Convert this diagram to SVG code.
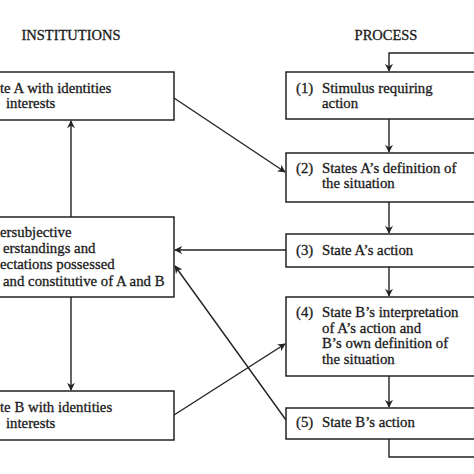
<svg xmlns="http://www.w3.org/2000/svg" width="474" height="474" viewBox="0 0 474 474">
<style>
text{font-family:"Liberation Serif","Times New Roman",serif;font-size:14.8px;fill:#1a1a1a;stroke:#1a1a1a;stroke-width:0.3}
.hd{font-size:14.5px}
.box{fill:#fff;stroke:#222;stroke-width:1.5}
.ln{fill:none;stroke:#222;stroke-width:1.4}
</style>
<defs>
<marker id="ar" viewBox="0 0 10 10" refX="9" refY="5" markerWidth="8" markerHeight="8" markerUnits="userSpaceOnUse" orient="auto">
<path d="M0,0 L10,5 L0,10 L3,5 Z" fill="#222"/>
</marker>
</defs>
<rect width="474" height="474" fill="#fff"/>
<text class="hd" x="71" y="40" text-anchor="middle">INSTITUTIONS</text>
<text class="hd" x="386" y="40" text-anchor="middle">PROCESS</text>
<g id="connectors">
<path class="ln" d="M480,53 L389,53 L389,71" marker-end="url(#ar)"/>
<path class="ln" d="M389,119 L389,152" marker-end="url(#ar)"/>
<path class="ln" d="M389,202 L389,233" marker-end="url(#ar)"/>
<path class="ln" d="M389,267 L389,296" marker-end="url(#ar)"/>
<path class="ln" d="M389,376 L389,407" marker-end="url(#ar)"/>
<path class="ln" d="M389,439 L389,457 L480,457"/>
<path class="ln" d="M71,217 L71,121" marker-end="url(#ar)"/>
<path class="ln" d="M71,297 L71,390" marker-end="url(#ar)"/>
<path class="ln" d="M174,98 L285,172" marker-end="url(#ar)"/>
<path class="ln" d="M286,250 L175,250" marker-end="url(#ar)"/>
<path class="ln" d="M286,420 L175,266" marker-end="url(#ar)"/>
<path class="ln" d="M174,415 L285,344" marker-end="url(#ar)"/>
</g>
<g id="stateA">
<rect class="box" x="-30" y="72" width="204" height="48"/>
<text x="0" y="93">te A with identities</text>
<text x="6" y="108">interests</text>
</g>
<g id="intersubjective">
<rect class="box" x="-30" y="217" width="204" height="80"/>
<text x="0" y="237">ersubjective</text>
<text x="3" y="253">erstandings and</text>
<text x="0" y="269">ectations possessed</text>
<text x="3" y="286">and constitutive of A and B</text>
</g>
<g id="stateB">
<rect class="box" x="-30" y="391" width="204" height="49"/>
<text x="0" y="412">te B with identities</text>
<text x="6" y="428">interests</text>
</g>
<g id="p1">
<rect class="box" x="286" y="72" width="220" height="47"/>
<text x="296" y="93">(1)</text>
<text x="322" y="93">Stimulus requiring</text>
<text x="322" y="108">action</text>
</g>
<g id="p2">
<rect class="box" x="286" y="153" width="220" height="49"/>
<text x="296" y="173">(2)</text>
<text x="322" y="173">States A’s definition of</text>
<text x="322" y="188">the situation</text>
</g>
<g id="p3">
<rect class="box" x="286" y="234" width="220" height="33"/>
<text x="296" y="255">(3)</text>
<text x="322" y="255">State A’s action</text>
</g>
<g id="p4">
<rect class="box" x="286" y="297" width="220" height="79"/>
<text x="296" y="317">(4)</text>
<text x="322" y="317">State B’s interpretation</text>
<text x="322" y="333">of A’s action and</text>
<text x="322" y="348">B’s own definition of</text>
<text x="322" y="364">the situation</text>
</g>
<g id="p5">
<rect class="box" x="286" y="408" width="220" height="31"/>
<text x="296" y="427">(5)</text>
<text x="322" y="427">State B’s action</text>
</g>
</svg>
